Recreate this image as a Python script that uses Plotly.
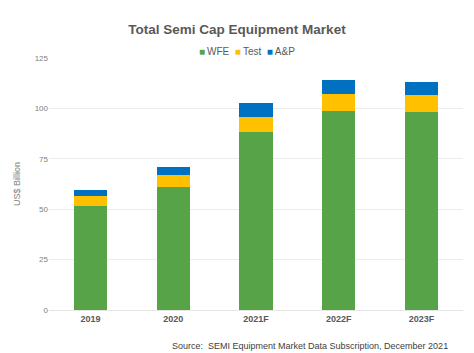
import plotly.graph_objects as go

years = ["2019", "2020", "2021F", "2022F", "2023F"]
wfe = [51.6, 61.2, 88.1, 98.9, 98.4]
test = [5.0, 5.9, 7.6, 8.3, 8.1]
ap = [3.0, 3.9, 7.0, 7.1, 6.8]
yticks = [0, 25, 50, 75, 100, 125]

series = [("WFE", wfe, "#56A447"), ("Test", test, "#FFC000"), ("A&P", ap, "#0070C0")]

fig = go.Figure()
for name, vals, col in series:
    fig.add_trace(go.Bar(name=name, x=years, y=vals, marker_color=col, marker_line_width=0))

legend_text = "&nbsp;&nbsp;".join(
    f"<span style='color:{col}'>■</span>&#8201;{name.replace('&', '&amp;')}" for name, _, col in series
)

fig.update_layout(
    barmode="stack",
    bargap=0.6,
    width=474, height=353,
    margin=dict(l=49, r=11, t=58, b=43),
    paper_bgcolor="white", plot_bgcolor="white",
    font=dict(family="Liberation Sans, Arial, sans-serif", color="#595959"),
    title=dict(text="<b>Total Semi Cap Equipment Market</b>", x=0.5, xanchor="center",
               y=0.918, yanchor="middle", font=dict(size=13.5, color="#595959")),
    showlegend=False,
    xaxis=dict(showgrid=False, showline=True, linecolor="#E5E5E5", ticks="",
               tickfont=dict(size=9, color="#595959"), tickprefix="<b>", ticksuffix="</b>"),
    yaxis=dict(range=[0, 125], tickvals=yticks, showgrid=True, gridcolor="#EBEBEB",
               zeroline=False, ticks="", tickfont=dict(size=8, color="#7F7F7F"),
               title=dict(text="US$ Billion", font=dict(size=9, color="#7F7F7F"), standoff=12)),
    annotations=[
        dict(text=legend_text, xref="paper", yref="paper", x=0.478, y=1.024,
             xanchor="center", yanchor="middle", showarrow=False,
             font=dict(size=10, color="#595959")),
        dict(text="Source:  SEMI Equipment Market Data Subscription, December 2021",
             xref="paper", yref="paper", x=0.63, y=-0.115, xanchor="center",
             yanchor="top", showarrow=False, font=dict(size=9, color="#404040")),
    ],
)
fig.write_html("out.html")
